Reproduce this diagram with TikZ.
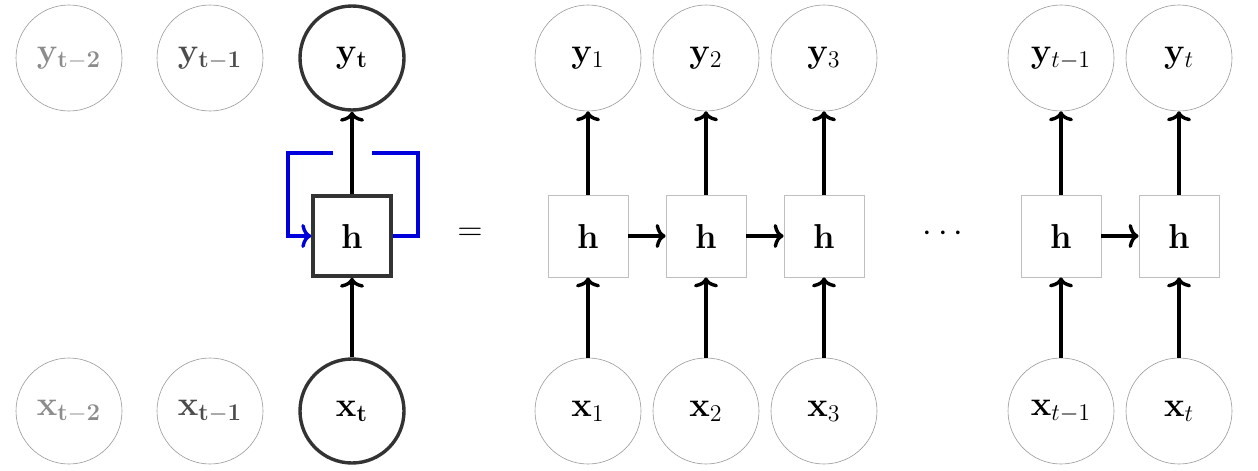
\documentclass[tikz,border=0pt]{standalone}
\usetikzlibrary{arrows.meta}
\begin{document}
\begin{tikzpicture}[x=0.5pt,y=-0.5pt,
 cf/.style={circle,draw=gray!80,line width=0.3pt,minimum size=53pt,inner sep=0pt,font=\LARGE},
 ct/.style={circle,draw=black!80,line width=1.7pt,minimum size=52pt,inner sep=0pt,font=\LARGE},
 bx/.style={rectangle,draw=gray!50,line width=0.4pt,minimum width=40pt,minimum height=41pt,inner sep=0pt,font=\LARGE},
 bxt/.style={rectangle,draw=black!80,line width=1.7pt,minimum width=39pt,minimum height=40pt,inner sep=0pt,font=\LARGE},
 ar/.style={line width=1.7pt,-{To[length=5pt,width=12pt]}},
 lp/.style={line width=1.7pt,draw={rgb,255:red,0;green,0;blue,220}}]
\useasboundingbox (0,0) rectangle (1258,471);
% left
\node[cf,text=gray!90] (y2) at (69,58) {$\mathbf{y_{t-2}}$};
\node[cf,text=black!70] (y1) at (210,58) {$\mathbf{y_{t-1}}$};
\node[ct] (yt) at (352,58) {$\mathbf{y_{t}}$};
\node[cf,text=gray!90] (x2) at (69,411) {$\mathbf{x_{t-2}}$};
\node[cf,text=black!70] (x1) at (210,411) {$\mathbf{x_{t-1}}$};
\node[ct] (xt) at (352,411) {$\mathbf{x_{t}}$};
\node[bxt] (h0) at (352,236) {$\mathbf{h}$};
\draw[ar] (h0) -- (yt);
\draw[ar] (xt) -- (h0);
\coordinate (r1) at (418,236); \coordinate (r2) at (418,153); \coordinate (r3) at (372,153);
\coordinate (l1) at (333,153); \coordinate (l2) at (288,153); \coordinate (l3) at (288,236);
\draw[lp] (h0.east) -- (r1) -- (r2) -- (r3);
\draw[lp,-{To[length=5pt,width=12pt]}] (l1) -- (l2) -- (l3) -- (h0.west);
\node[font=\LARGE] (eq) at (470,234) {$=$};
\node[font=\LARGE] (dots) at (943,234) {$\cdots$};
% right
\foreach \n/\x/\l in {a/588/1,b/706/2,c/824/3,d/1061/{t-1},e/1179/t}{
 \node[cf] (y\n) at (\x,58) {$\mathbf{y}_{\l}$};
 \node[cf] (x\n) at (\x,411) {$\mathbf{x}_{\l}$};
 \node[bx] (h\n) at (\x,236) {$\mathbf{h}$};
 \draw[ar] (h\n) -- (y\n);
 \draw[ar] (x\n) -- (h\n);
}
\draw[ar] (ha) -- (hb);
\draw[ar] (hb) -- (hc);
\draw[ar] (hd) -- (he);
\end{tikzpicture}
\end{document}
